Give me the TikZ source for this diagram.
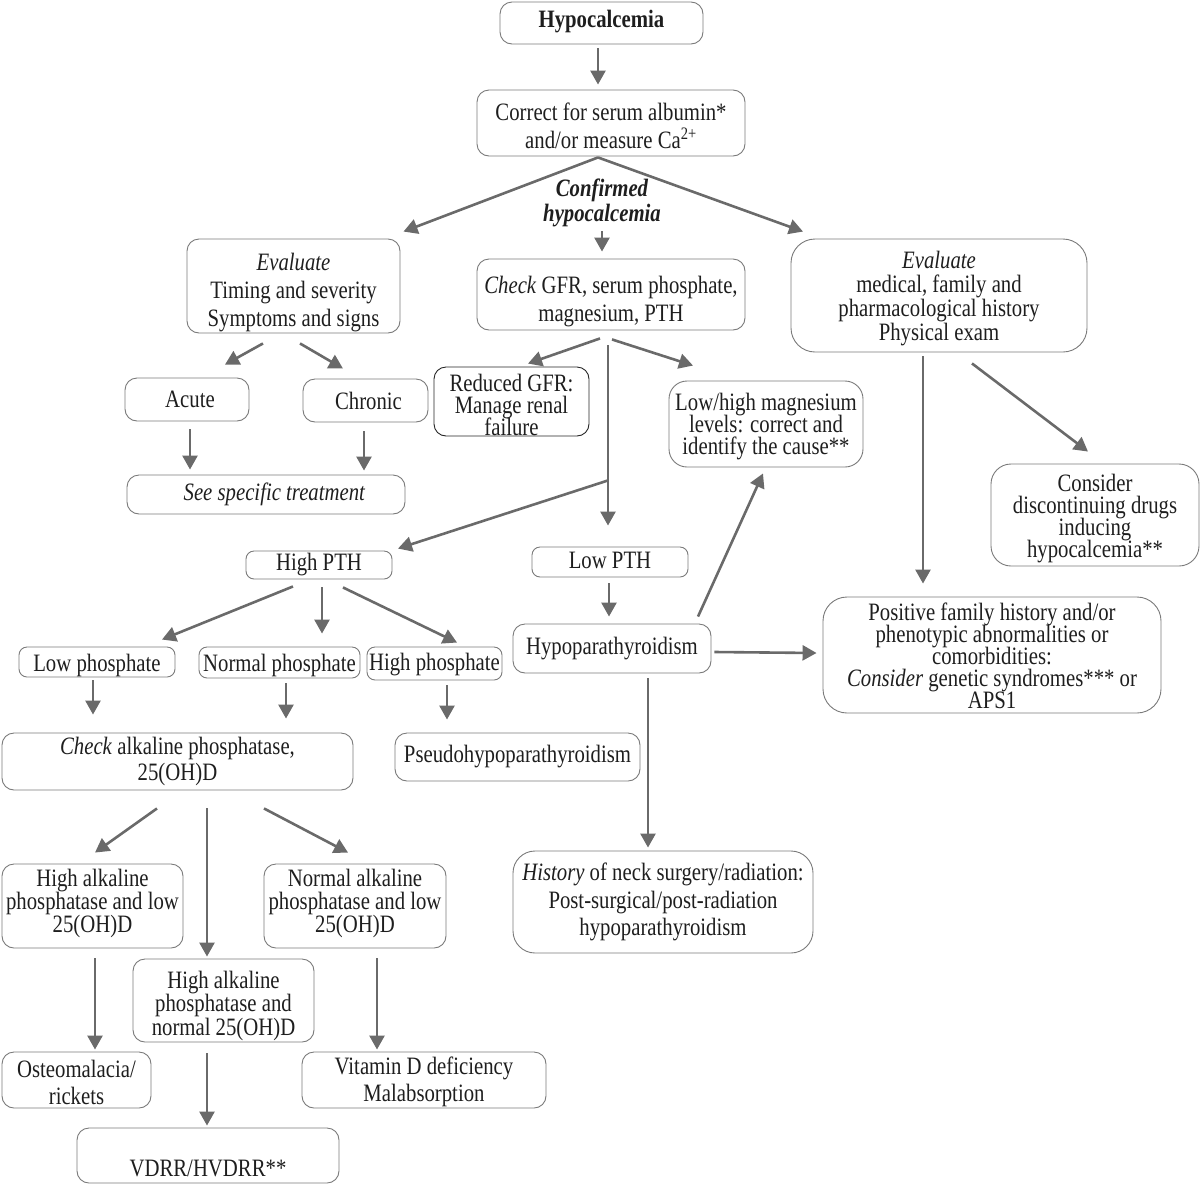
\documentclass[tikz,border=0pt]{standalone}
\usepackage{fontspec}
\setmainfont{Liberation Serif}[FakeStretch=0.83]
\usetikzlibrary{arrows.meta}
\definecolor{boxc}{HTML}{7A7A7A}
\definecolor{arrc}{HTML}{6A6A6A}
\definecolor{txtc}{HTML}{1E1E1E}
\newcommand\fsz[1]{\fontsize{25}{#1}\selectfont\lineskiplimit=-100pt\relax}
\newcommand\tp[1]{\rule{0pt}{#1}}
\newcommand\bt[1]{\rule[-#1]{0pt}{#1}}
\begin{document}
\begin{tikzpicture}[x=1pt,y=-1pt,
  box/.style={draw=boxc, line width=0.9pt, rounded corners=12pt, align=center, inner sep=0pt, text=txtc, font=\fsz{28}},
  sz/.style 2 args={minimum width=#1pt, minimum height=#2pt},
  arr/.style={draw=arrc, line width=2.6pt, -{Triangle[length=14pt,width=15pt]}}
]
\useasboundingbox (0,0) rectangle (1200,1184);

% nodes
\node[box, sz={203}{42}] (hypo) at (601.5,23) {\bfseries Hypocalcemia\bt{8pt}};
\node[box, sz={268}{66}] (corr) at (611,123) {\tp{23.5pt}Correct for serum albumin*\\and/or measure Ca\textsuperscript{2+}};
\node[align=center, inner sep=0pt, text=txtc, font=\fsz{25}\bfseries\itshape] (conf) at (602,203) {Confirmed\\hypocalcemia};
\node[box, sz={213}{94}] (evl) at (293.5,286) {\tp{29.5pt}\textit{Evaluate}\\Timing and severity\\Symptoms and signs};
\node[box, sz={268}{71}] (chk) at (611,294.5) {\tp{31.5pt}\textit{Check} GFR, serum phosphate,\\magnesium, PTH};
\node[box, sz={296}{113}, font=\fsz{24}, rounded corners=24pt] (evr) at (939,295.5) {\tp{23.5pt}\textit{Evaluate}\\medical, family and\\pharmacological history\\Physical exam};
\node[box, sz={124}{43}] (acute) at (187,399.5) {\hspace{6pt}Acute};
\node[box, sz={125}{43}] (chronic) at (365.5,400.5) {\hspace{6pt}Chronic};
\node[box, sz={155}{69}, draw=black!85, font=\fsz{22}] (rgfr) at (511.5,401.5) {\tp{24pt}Reduced GFR:\\Manage renal\\failure};
\node[box, sz={194}{86}, font=\fsz{22}, rounded corners=18pt] (mg) at (766,424) {\tp{21.5pt}Low/high magnesium\\levels: correct and\\identify the cause**};
\node[box, sz={278}{39}] (see) at (266,494.5) {\hspace{17pt}\textit{See specific treatment}};
\node[box, sz={208}{102}, font=\fsz{22}, rounded corners=20pt] (cons) at (1095,515) {\tp{23.5pt}Consider\\discontinuing drugs\\inducing\\hypocalcemia**};
\node[box, sz={146}{28}, rounded corners=8pt] (hpth) at (319,565) {High PTH};
\node[box, sz={156}{30}, rounded corners=8pt] (lpth) at (610,562) {\bt{4pt}Low PTH};
\node[box, sz={198}{49}] (hpara) at (612,648.5) {Hypoparathyroidism};
\node[box, sz={338}{116}, font=\fsz{22}, rounded corners=24pt] (pos) at (992,655) {\tp{19.5pt}Positive family history and/or\\phenotypic abnormalities or\\comorbidities:\\\textit{Consider} genetic syndromes*** or\\APS1};
\node[box, sz={156}{30}, rounded corners=8pt] (lowp) at (97,662) {\tp{23.5pt}Low phosphate};
\node[box, sz={161}{31}, rounded corners=8pt] (normp) at (279.5,662.5) {\tp{23.5pt}Normal phosphate};
\node[box, sz={135}{33}, rounded corners=8pt] (highp) at (434.5,663.5) {\tp{19.5pt}High phosphate};
\node[box, sz={351}{57}, font=\fsz{26}] (chkalk) at (177.5,761.5) {\textit{Check} alkaline phosphatase,\\25(OH)D};
\node[box, sz={245}{48}] (pseudo) at (517.5,757) {Pseudohypoparathyroidism};
\node[box, sz={181}{84}, font=\fsz{23}] (hal) at (92.5,906) {High alkaline\\phosphatase and low\\25(OH)D\bt{11pt}};
\node[box, sz={182}{84}, font=\fsz{23}] (nal) at (355,906) {Normal alkaline\\phosphatase and low\\25(OH)D\bt{11pt}};
\node[box, sz={181}{83}, font=\fsz{23.5}] (han) at (223.5,1000.5) {\tp{27.5pt}High alkaline\\phosphatase and\\normal 25(OH)D};
\node[box, sz={149}{56}, font=\fsz{27}] (osteo) at (76.5,1080) {\tp{21.5pt}Osteomalacia/\\rickets};
\node[box, sz={244}{56}, font=\fsz{27}] (vitd) at (424,1080) {\tp{21.5pt}Vitamin D deficiency\\Malabsorption};
\node[box, sz={262}{55}] (vdrr) at (208,1155.5) {\tp{42pt}VDRR/HVDRR**};
\node[box, sz={300}{102}, font=\fsz{27.5}, rounded corners=22pt] (hist) at (663,902) {\textit{History} of neck surgery/radiation:\\Post-surgical/post-radiation\\hypoparathyroidism};

\coordinate (br) at ([shift={(-3,150)}]chk.south);

% connectors
\draw[arr] ([shift={(-3.5,4)}]hypo.south) -- ([shift={(-13,-5)}]corr.north);
\draw[arr] ([shift={(-13,1)}]corr.south) -- ([shift={(110,-7)}]evl.north);
\draw[arr] ([shift={(-13,1)}]corr.south) -- ([shift={(-136,-7)}]evr.north);
\draw[arr] ([shift={(0,4)}]conf.south) -- ([shift={(-9,-7)}]chk.north);
\draw[arr] ([shift={(-30.5,10)}]evl.south) -- ([shift={(38,-13)}]acute.north);
\draw[arr] ([shift={(6.5,10)}]evl.south) -- ([shift={(-22.5,-10)}]chronic.north);
\draw[arr] ([shift={(3,8)}]acute.south) -- ([shift={(-76,-5)}]see.north);
\draw[arr] ([shift={(-1.5,9)}]chronic.south) -- ([shift={(98,-4)}]see.north);
\draw[arr] ([shift={(-11,8)}]chk.south) -- ([shift={(16.5,-3)}]rgfr.north);
\draw[arr] ([shift={(1,9)}]chk.south) -- ([shift={(-73,-15)}]mg.north);
\draw[arr] ([shift={(-3,15)}]chk.south) -- ([shift={(-2,-21)}]lpth.north);
\draw[arr] (br) -- ([shift={(79,-2)}]hpth.north);
\draw[arr] ([shift={(-16,4)}]evr.south) -- ([shift={(-69,-13)}]pos.north);
\draw[arr] ([shift={(33,11)}]evr.south) -- ([shift={(-7,-12)}]cons.north);
\draw[arr] ([shift={(-1,6)}]lpth.south) -- ([shift={(-3,-7)}]hpara.north);
\draw[arr] ([shift={(86,-7)}]hpara.north) -- ([shift={(-3,6)}]mg.south);
\draw[arr] ([shift={(3,3.5)}]hpara.east) -- ([shift={(-6,-2)}]pos.west);
\draw[arr] ([shift={(36,5)}]hpara.south) -- ([shift={(-15,-3)}]hist.north);
\draw[arr] ([shift={(-26,7)}]hpth.south) -- ([shift={(65,-7)}]lowp.north);
\draw[arr] ([shift={(3,8)}]hpth.south) -- ([shift={(42.5,-13)}]normp.north);
\draw[arr] ([shift={(24,8)}]hpth.south) -- ([shift={(22.5,-4)}]highp.north);
\draw[arr] ([shift={(-4,3)}]lowp.south) -- ([shift={(-84.5,-18)}]chkalk.north);
\draw[arr] ([shift={(6.5,5)}]normp.south) -- ([shift={(108.5,-14)}]chkalk.north);
\draw[arr] ([shift={(12.5,5)}]highp.south) -- ([shift={(-70.5,-13)}]pseudo.north);
\draw[arr] ([shift={(-20.5,18)}]chkalk.south) -- ([shift={(2.5,-11)}]hal.north);
\draw[arr] ([shift={(29.5,18)}]chkalk.south) -- ([shift={(-16.5,-2)}]han.north);
\draw[arr] ([shift={(86.5,18)}]chkalk.south) -- ([shift={(-7,-11)}]nal.north);
\draw[arr] ([shift={(2.5,10)}]hal.south) -- ([shift={(18.5,-2)}]osteo.north);
\draw[arr] ([shift={(22,10)}]nal.south) -- ([shift={(-47,-2)}]vitd.north);
\draw[arr] ([shift={(-16.5,11)}]han.south) -- ([shift={(-1,-2)}]vdrr.north);
\end{tikzpicture}
\end{document}
